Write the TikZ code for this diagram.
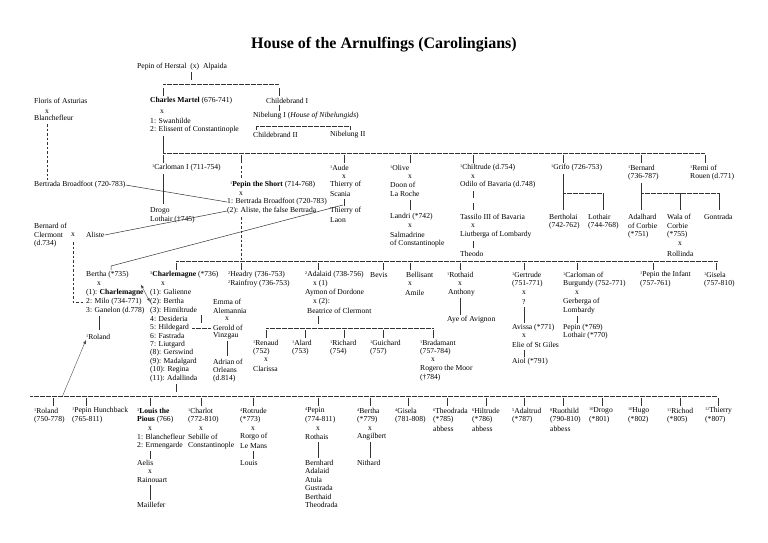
\documentclass[tikz,border=0pt]{standalone}
\usepackage{fontspec}
\setmainfont{Liberation Serif}
\begin{document}
\begin{tikzpicture}[x=1pt,y=-1pt,
  txt/.style={anchor=west,inner sep=0pt,font=\fontsize{7.6}{8.7}\selectfont,align=left},
  tick/.style={line width=0.35pt,black!80},
  dl/.style={line width=0.35pt,black!80,dash pattern=on 0.8pt off 0.4pt},
  cl/.style={line width=0.5pt,black!80},
  ar/.style={line width=0.4pt,black!70,-latex}]
\useasboundingbox (0,0) rectangle (768,543);
\newcommand\tx[3]{\node[txt] at (#1,#2) {#3};}
\newcommand\vt[3]{\draw[tick] (#1,#2) -- (#1,#3);}
\newcommand\hd[3]{\draw[dl] (#2,#1) -- (#3,#1);}
\newcommand\s[1]{\raisebox{2.2pt}{\fontsize{4.2}{5}\selectfont #1}}
\node[font=\fontsize{16}{18}\selectfont\bfseries] (title) at (384,45) {House of the Arnulfings (Carolingians)};
% generation 0
\tx{137}{67}{Pepin of Herstal \ (x) \ Alpaida}
\vt{191}{72}{80}
\hd{84}{163}{279}
\vt{163}{88}{96}\vt{279}{88}{96}
\node[txt] (cm) at (150,101) {\textbf{Charles Martel} (676-741)};
\tx{160}{112}{x}
\tx{150}{121}{1: Swanhilde}
\tx{150}{130}{2: Elissent of Constantinople}
\tx{266}{101}{Childebrand I}
\vt{279}{105}{111}
\tx{253}{116}{Nibelung I (\textit{House of Nibelungids})}
\hd{126}{256}{350}\vt{256}{126}{130}\vt{350}{126}{130}
\tx{253}{135}{Childebrand II}
\tx{330}{135}{Nibelung II}
\tx{34}{101}{Floris of Asturias}
\tx{45}{112}{x}
\tx{34}{118}{Blanchefleur}
\draw[dl,dash pattern=on 2.5pt off 2pt] (47,124) -- (47,180);
% generation 1
\vt{163}{136}{153}
\hd{153}{163}{705}
\foreach \xx in {163,241,344,410,473,563,641,705} {\vt{\xx}{155}{163}}
\tx{152}{168}{\s{1}Carloman I (711-754)}
\vt{163}{174}{204}
\tx{150}{211}{Drogo}
\tx{150}{220}{Lothair (†745)}
\draw[dl,dash pattern=on 2.5pt off 2pt] (241,166) -- (241,178);
\node[txt] (ps) at (230,185) {\s{1}\textbf{Pepin the Short} (714-768)};
\tx{239}{194}{x}
\node[txt] (pb1) at (227,202) {1: Bertrada Broadfoot (720-783)};
\node[txt] (pb2) at (227,211) {(2): Aliste, the false Bertrada};
\draw[dl,dash pattern=on 2.5pt off 2pt] (241,217) -- (241,261);
\tx{330}{168}{\s{1}Aude}
\tx{342}{177}{x}
\tx{330}{185}{Thierry of}
\tx{330}{194}{Scania}
\vt{344}{199}{206}
\node[txt] (tl) at (330,211) {Thierry of};
\coordinate (tlt) at (343,205);
\tx{330}{220}{Laon}
\tx{390}{168}{\s{1}Olive}
\tx{408}{177}{x}
\tx{390}{185}{Doon of}
\tx{390}{194}{La Roche}
\vt{410}{200}{210}
\tx{390}{217}{Landri (*742)}
\tx{408}{226}{x}
\tx{390}{235}{Salmadrine}
\tx{390}{244}{of Constantinople}
\tx{460}{168}{\s{1}Chiltrude (d.754)}
\tx{471}{177}{x}
\tx{460}{185}{Odilo of Bavaria (d.748)}
\vt{473}{191}{198}\vt{473}{203}{210}
\tx{460}{217}{Tassilo III of Bavaria}
\tx{471}{226}{x}
\tx{460}{235}{Liutberga of Lombardy}
\vt{473}{241}{248}
\tx{460}{254}{Theodo}
\tx{551}{168}{\s{1}Grifo (726-753)}
\vt{563}{174}{210}
\hd{193}{563}{603}\vt{603}{193}{210}
\tx{549}{217}{Bertholai}
\tx{549}{226}{(742-762)}
\tx{588}{217}{Lothair}
\tx{588}{226}{(744-768)}
\tx{628}{168}{\s{1}Bernard}
\tx{628}{177}{(736-787)}
\vt{641}{183}{210}
\hd{193}{641}{719}\vt{680}{193}{210}\vt{719}{193}{210}
\tx{628}{217}{Adalhard}
\tx{628}{226}{of Corbie}
\tx{628}{235}{(*751)}
\tx{667}{217}{Wala of}
\tx{667}{226}{Corbie}
\tx{667}{235}{(*755)}
\tx{678}{244}{x}
\tx{667}{254}{Rollinda}
\tx{704}{217}{Gontrada}
\tx{690}{168}{\s{1}Remi of}
\tx{690}{177}{Rouen (d.771)}
\node[txt] (bb) at (34,185) {Bertrada Broadfoot (720-783)};
\tx{34}{226}{Bernard of}
\tx{34}{235}{Clermont}
\tx{34}{244}{(d.734)}
\tx{71}{235}{x}
\node[txt] (al) at (86,235) {Aliste};
\draw[cl] (bb.east) -- (pb1.west);
\draw[cl] (al.east) -- (pb2.west);
\draw[dl,dash pattern=on 2.5pt off 2pt] (73,242) -- (73,302) -- (84,302);
% generation 2
\hd{261}{176}{718}
\foreach \xx in {176,241,318,383,410,460,524,577,653,716} {\vt{\xx}{263}{270}}
\node[txt] (be) at (86,275) {Bertha (*735)};
\draw[cl] (111,270) -- (111,266) -- (tlt);
\tx{97}{284}{x}
\node[txt] (bc) at (86,293) {(1): \textbf{Charlemagne}};
\tx{86}{302}{2: Milo (734-771)}
\tx{86}{311}{3: Ganelon (d.778)}
\vt{99}{316}{330}
\node[txt] (ro1) at (86,337) {\s{1}Roland};
\node[txt] (ch) at (150,275) {\s{3}\textbf{Charlemagne} (*736)};
\tx{161}{284}{x}
\tx{150}{293}{(1): Galienne}
\node[txt] (cb) at (150,302) {(2): Bertha};
\draw[ar,latex-latex] (bc.north east)++(-3,-5) -- (cb.west);
\tx{150}{311}{(3): Himiltrude}
\tx{150}{319}{4: Desideria}
\vt{201}{315}{323}
\tx{150}{328}{5: Hildegard}
\hd{328}{192}{211}
\tx{150}{336}{6: Fastrada}
\tx{150}{345}{7: Liutgard}
\tx{150}{353}{(8): Gerswind}
\tx{150}{362}{(9): Madalgard}
\tx{150}{370}{(10): Regina}
\tx{150}{379}{(11): Adallinda}
\vt{176}{384}{392}
\tx{213}{302}{Emma of}
\tx{213}{311}{Alemannia}
\tx{225}{319}{x}
\tx{213}{328}{Gerold of}
\tx{213}{336}{Vinzgau}
\vt{227}{341}{356}
\tx{213}{362}{Adrian of}
\tx{213}{370}{Orleans}
\tx{213}{379}{(d.814)}
\tx{228}{275}{\s{2}Headry (736-753)}
\tx{228}{284}{\s{2}Rainfroy (736-753)}
\tx{305}{275}{\s{2}Adalaid (738-756)}
\tx{313}{284}{x (1)}
\tx{305}{293}{Aymon of Dordone}
\tx{313}{302}{x (2):}
\tx{307}{311}{Beatrice of Clermont}
\vt{318}{316}{324}
\hd{328}{266}{433}
\foreach \xx in {266,305,344,383,433} {\vt{\xx}{330}{338}}
\tx{253}{343}{\s{1}Renaud}
\tx{253}{352}{(752)}
\tx{264}{360}{x}
\tx{253}{369}{Clarissa}
\tx{292}{343}{\s{1}Alard}
\tx{292}{352}{(753)}
\tx{330}{343}{\s{1}Richard}
\tx{330}{352}{(754)}
\tx{370}{343}{\s{1}Guichard}
\tx{370}{352}{(757)}
\tx{420}{343}{\s{1}Bradamant}
\tx{420}{352}{(757-784)}
\tx{431}{360}{x}
\tx{420}{369}{Rogero the Moor}
\tx{420}{378}{(†784)}
\tx{370}{275}{Bevis}
\tx{406}{275}{Bellisant}
\tx{408}{284}{x}
\tx{405}{293}{Amile}
\tx{447}{275}{\s{1}Rothaid}
\tx{458}{284}{x}
\tx{448}{293}{Anthony}
\vt{460}{298}{315}
\tx{447}{320}{Aye of Avignon}
\tx{512}{275}{\s{1}Gertrude}
\tx{512}{284}{(751-771)}
\tx{522}{293}{x}
\tx{522}{302}{?}
\vt{524}{307}{323}
\tx{512}{328}{Avissa (*771)}
\tx{522}{336}{x}
\tx{512}{345}{Elie of St Giles}
\vt{524}{350}{357}
\tx{512}{362}{Aiol (*791)}
\tx{563}{275}{\s{1}Carloman of}
\tx{563}{284}{Burgundy (752-771)}
\tx{575}{293}{x}
\tx{563}{302}{Gerberga of}
\tx{563}{311}{Lombardy}
\vt{577}{316}{323}
\tx{563}{328}{Pepin (*769)}
\tx{563}{336}{Lothair (*770)}
\tx{640}{275}{\s{1}Pepin the Infant}
\tx{640}{284}{(757-761)}
\tx{704}{275}{\s{1}Gisela}
\tx{704}{284}{(757-810)}
% generation 3
\hd{396}{30}{717}
\foreach \xx in {53,86,150,201,253,318,370,408,447,486,524,563,602,641,680,718} {\vt{\xx}{398}{406}}
\node[txt] (ro2) at (34,411) {\s{1}Roland};
\draw[ar] (ro2.north east)++(4,-12) -- (ro1.south west);
\tx{34}{420}{(750-778)}
\tx{72}{411}{\s{1}Pepin Hunchback}
\tx{72}{420}{(765-811)}
\tx{137}{411}{\s{3}\textbf{Louis the}}
\tx{137}{420}{\textbf{Pious} (766)}
\tx{148}{429}{x}
\tx{137}{437}{1: Blanchefleur}
\tx{137}{446}{2: Ermengarde}
\vt{150}{451}{459}
\tx{137}{463}{Aelis}
\tx{148}{472}{x}
\tx{137}{480}{Rainouart}
\vt{150}{485}{500}
\tx{137}{505}{Maillefer}
\tx{188}{411}{\s{1}Charlot}
\tx{188}{420}{(772-810)}
\tx{199}{429}{x}
\tx{188}{437}{Sebille of}
\tx{188}{446}{Constantinople}
\tx{240}{411}{\s{4}Rotrude}
\tx{240}{420}{(*773)}
\tx{251}{429}{x}
\tx{240}{437}{Rorgo of}
\tx{240}{446}{Le Mans}
\vt{253}{451}{459}
\tx{240}{463}{Louis}
\tx{305}{411}{\s{4}Pepin}
\tx{305}{420}{(774-811)}
\tx{316}{429}{x}
\tx{305}{437}{Rothais}
\vt{318}{442}{458}
\tx{305}{463}{Bernhard}
\tx{305}{471}{Adalaid}
\tx{305}{480}{Atula}
\tx{305}{488}{Gustrada}
\tx{305}{497}{Berthaid}
\tx{305}{505}{Theodrada}
\tx{357}{411}{\s{4}Bertha}
\tx{357}{420}{(*779)}
\tx{368}{429}{x}
\tx{357}{437}{Angilbert}
\vt{370}{442}{458}
\tx{357}{463}{Nithard}
\tx{395}{411}{\s{4}Gisela}
\tx{395}{420}{(781-808)}
\tx{433}{411}{\s{6}Theodrada}
\tx{433}{420}{(*785)}
\tx{433}{429}{abbess}
\tx{472}{411}{\s{6}Hiltrude}
\tx{472}{420}{(*786)}
\tx{472}{429}{abbess}
\tx{512}{411}{\s{5}Adaltrud}
\tx{512}{420}{(*787)}
\tx{550}{411}{\s{8}Ruothild}
\tx{550}{420}{(790-810)}
\tx{550}{429}{abbess}
\tx{589}{411}{\s{10}Drogo}
\tx{589}{420}{(*801)}
\tx{628}{411}{\s{10}Hugo}
\tx{628}{420}{(*802)}
\tx{667}{411}{\s{11}Richod}
\tx{667}{420}{(*805)}
\tx{705}{411}{\s{11}Thierry}
\tx{705}{420}{(*807)}
\end{tikzpicture}
\end{document}
